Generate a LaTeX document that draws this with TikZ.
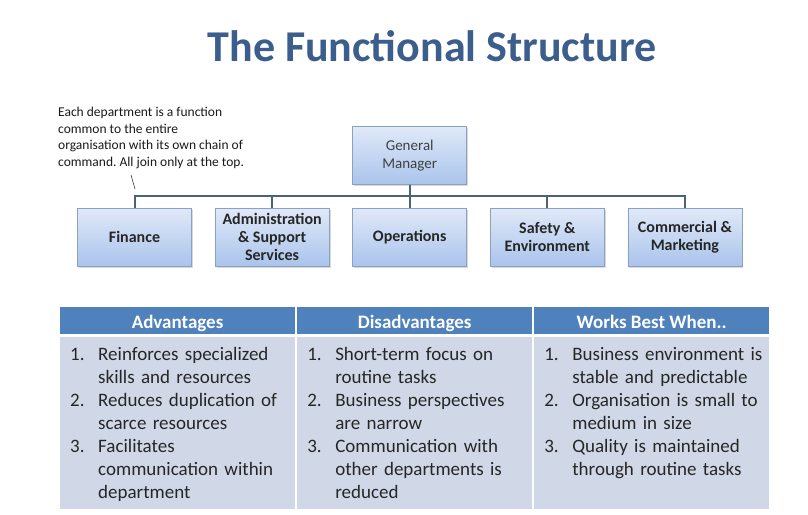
\documentclass[tikz,border=0pt]{standalone}
\usepackage{fontspec}
\setmainfont{Carlito}
\usepackage{enumitem}
\usetikzlibrary{positioning, shadows, calc}

\definecolor{titleblue}{RGB}{59,94,140}
\definecolor{boxtop}{RGB}{224,233,248}
\definecolor{boxbot}{RGB}{170,196,236}
\definecolor{boxline}{RGB}{140,160,192}
\definecolor{busline}{RGB}{74,98,124}
\definecolor{headblue}{RGB}{79,129,189}
\definecolor{bodyblue}{RGB}{208,216,232}

\setlist[enumerate]{label=\arabic*., leftmargin=28pt, labelwidth=18pt,
  labelsep=10pt, align=left, itemsep=0pt, topsep=0pt, parsep=0pt, partopsep=0pt}
\frenchspacing

\begin{document}
\begin{tikzpicture}[
    x=1pt, y=-1pt,
    dept/.style={
        rectangle, draw=boxline, line width=0.6pt,
        top color=boxtop, bottom color=boxbot,
        minimum width=114pt, minimum height=58pt,
        align=center, inner sep=2pt, text=black!85,
        font=\fontsize{16}{18}\selectfont\bfseries,
        drop shadow={shadow xshift=1.5pt, shadow yshift=-1.5pt, opacity=0.3}
    },
    bus/.style={draw=busline, line width=2pt},
    head/.style={
        rectangle, fill=headblue, inner sep=0pt,
        minimum width=234.67pt, minimum height=27pt,
        text height=15pt, text depth=0pt,
        text=white, font=\fontsize{19}{23}\selectfont\bfseries
    },
    cell/.style={
        rectangle, fill=bodyblue, inner sep=0pt,
        minimum width=234.67pt, minimum height=172pt
    },
    items/.style={
        anchor=north west, text width=222pt,
        inner xsep=10pt, inner ysep=0.5pt, text=black!85,
        font=\fontsize{19}{23}\selectfont
    },
    note/.style={
        anchor=north west, align=left, inner sep=0pt, text=black!90,
        font=\fontsize{13.5}{16.5}\selectfont
    }
]
\useasboundingbox (0,0) rectangle (808,514);

% ============ TITLE ============
\node[text=titleblue, font=\fontsize{44}{50}\selectfont\bfseries] (title) at (432,46)
    {The Functional Structure};

% ============ DEPARTMENTS (one row) ============
\node[dept] (fin) at (134.5,237) {Finance};
\node[dept, right=23pt of fin] (adm) {Administration\\ \& Support\\ Services};
\node[dept, right=23pt of adm] (ops) {Operations};
\node[dept, right=23pt of ops] (saf) {Safety \&\\ Environment};
\node[dept, right=23pt of saf] (com) {Commercial \&\\ Marketing};

% ============ GENERAL MANAGER ============
\node[dept, above=23pt of ops, font=\fontsize{15}{18}\selectfont, text=black!75] (gm)
    {General\\ Manager};

% ============ REPORTING LINES ============
\foreach \d in {fin, adm, ops, saf, com}
    \draw[bus] (gm.south) -- ++(0,11) -| (\d.north);

% ============ NOTE (top left) ============
\node[note] (anno) at (58,107)
    {Each department is a function\\ common to the entire\\
     organisation with its own chain of\\ command. All join only at the top.};
\coordinate (annofrom) at (131,175);
\coordinate (annotip) at (135,189);
\draw[black!80, line width=0.6pt] (annofrom) -- (annotip);

% ============ TABLE HEADER ============
\node[head, anchor=north west] (hadv) at (60,307) {Advantages};
\node[head, right=2pt of hadv] (hdis) {Disadvantages};
\node[head, right=2pt of hdis] (hbest) {Works Best When..};

% ============ TABLE BODY ============
\node[cell, below=2pt of hadv] (cadv) {};
\node[cell, below=2pt of hdis] (cdis) {};
\node[cell, below=2pt of hbest] (cbest) {};

\node[items] (tadv) at (cadv.north west) {%
\begin{enumerate}
  \item Reinforces specialized\\ skills and resources
  \item Reduces duplication of\\ scarce resources
  \item Facilitates\\ communication within\\ department
\end{enumerate}};

\node[items] (tdis) at (cdis.north west) {%
\begin{enumerate}
  \item Short-term focus on\\ routine tasks
  \item Business perspectives\\ are narrow
  \item Communication with\\ other departments is\\ reduced
\end{enumerate}};

\node[items] (tbest) at (cbest.north west) {%
\begin{enumerate}
  \item Business environment is\\ stable and predictable
  \item Organisation is small to\\ medium in size
  \item Quality is maintained\\ through routine tasks
\end{enumerate}};

\end{tikzpicture}
\end{document}
